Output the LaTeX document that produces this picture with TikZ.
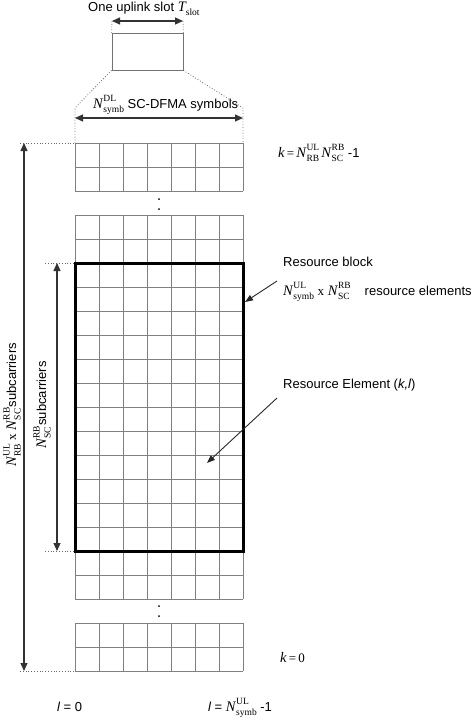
\documentclass[tikz,border=0pt]{standalone}
\usepackage{fontspec}
\setmainfont{Liberation Sans}
\newfontfamily\tms{Liberation Serif}
\usetikzlibrary{arrows.meta}
\newcommand\smallserif[1]{\mbox{\tms\fontsize{9.5}{9.5}\selectfont #1}}
\newcommand\bigN{{\tms\itshape\fontsize{14.5}{15}\selectfont N}}
\newlength\supw
\newlength\subw
\newcommand\Nv[2]{\bigN\kern0.6pt\settowidth\supw{\smallserif{#1}}\settowidth\subw{\smallserif{#2}}\rlap{\raisebox{6.5pt}{\smallserif{#1}}}\raisebox{-4.5pt}{\smallserif{#2}}\ifdim\supw>\subw\hspace{\dimexpr\supw-\subw\relax}\fi}
\begin{document}
\begin{tikzpicture}[x=1pt,y=-1pt,
  font=\fontsize{13}{15}\selectfont,
  gridline/.style={draw=black!50, line width=0.8pt},
  dimarrow/.style={{Triangle[length=8pt,width=7pt]}-{Triangle[length=8pt,width=7pt]}, line width=1.1pt, draw=black!80, fill=black},
  ptr/.style={-{Triangle[length=8pt,width=6pt]}, line width=0.9pt, draw=black!85},
  guide/.style={dotted, line width=0.8pt, draw=black!60},
  lbl/.style={anchor=base west, inner sep=0pt}]
\useasboundingbox (0,0) rectangle (474,720);
% grid blocks
\foreach \a/\b in {143/191,215/599,623/671}{
  \foreach \i in {0,...,7}{\draw[gridline] ({75+24*\i},\a) -- ({75+24*\i},\b);}
}
\foreach \y in {143,167,191}{\draw[gridline] (75,\y) -- (243,\y);}
\foreach \y in {215,239,...,599}{\draw[gridline] (75,\y) -- (243,\y);}
\foreach \y in {623,647,671}{\draw[gridline] (75,\y) -- (243,\y);}
% vertical dots in gaps
\foreach \y in {199,209,606,616}{\fill (159,\y) circle (1pt);}
% resource block
\draw[line width=3pt] (75,263) rectangle (243,551);
% uplink slot
\node[draw=black!55, line width=0.8pt, minimum width=71pt, minimum height=37pt, inner sep=0pt] (slot) at (147.5,51.5) {};
\coordinate (sa) at (112,21);
\coordinate (sb) at (183,21);
\draw[guide] (sa) -- (slot.north west);
\draw[guide] (sb) -- (slot.north east);
\draw[dimarrow] (sa) -- (sb);
\coordinate (fl) at (75,108);
\coordinate (fr) at (243,108);
\coordinate (gtl) at (75,143);
\coordinate (gtr) at (243,143);
\draw[guide] (slot.south west) -- (fl) -- (gtl);
\draw[guide] (slot.south east) -- (fr) -- (gtr);
\coordinate (ya) at (75,118);
\coordinate (yb) at (243,118);
\draw[dimarrow] (ya) -- (yb);
\node[lbl] (slotlbl) at (88,11) {One uplink slot {\tms\itshape\fontsize{14.5}{15}\selectfont T}\raisebox{-4.5pt}{\smallserif{slot}}};
\node[lbl] (symlbl) at (93,108) {\Nv{DL}{symb} SC-DFMA symbols};
% left dimension arrows
\coordinate (bt) at (24,143);
\coordinate (bb) at (24,671);
\coordinate (btd) at (20,143);
\coordinate (bbd) at (20,671);
\coordinate (gbl) at (75,671);
\draw[guide] (btd) -- (gtl);
\draw[guide] (bbd) -- (gbl);
\draw[dimarrow] (bt) -- (bb);
\coordinate (it) at (57,263);
\coordinate (ib) at (57,551);
\coordinate (itd) at (45,263);
\coordinate (ibd) at (45,551);
\coordinate (rtl) at (75,263);
\coordinate (rbl) at (75,551);
\draw[guide] (itd) -- (rtl);
\draw[guide] (ibd) -- (rbl);
\draw[dimarrow] (it) -- (ib);
\node[rotate=90, inner sep=0pt] (biglbl) at (12,405) {\Nv{UL}{RB} {\tms x} \Nv{RB}{SC}subcarriers};
\node[rotate=90, inner sep=0pt] (sclbl) at (42,405) {\Nv{RB}{SC}subcarriers};
% right labels
\node[lbl] (ktop) at (278,157) {{\tms\itshape\fontsize{14.5}{15}\selectfont k}\,{\tms=}\,\Nv{UL}{RB}\,\Nv{RB}{SC} -1};
\node[lbl] (rblbl) at (283,266) {Resource block};
\node[lbl] (relbl) at (283,295) {\Nv{UL}{symb} {\tms x} \Nv{RB}{SC}\hspace{14pt}resource elements};
\node[lbl] (elbl) at (283,388) {Resource Element ({\itshape k,l})};
\node[lbl] (kzero) at (280,662) {{\tms\itshape\fontsize{14.5}{15}\selectfont k}\,{\tms=}\,{\tms 0}};
\coordinate (rbfrom) at (277,281);
\coordinate (rbto) at (245,302);
\draw[ptr] (rbfrom) -- (rbto);
\coordinate (refrom) at (277,398);
\coordinate (reto) at (207,463);
\draw[ptr] (refrom) -- (reto);
% bottom labels
\node[lbl] (lzero) at (57,711) {{\itshape l} = 0};
\node[lbl] (lmax) at (208,711) {{\itshape l} = \Nv{UL}{symb} -1};
\end{tikzpicture}
\end{document}
